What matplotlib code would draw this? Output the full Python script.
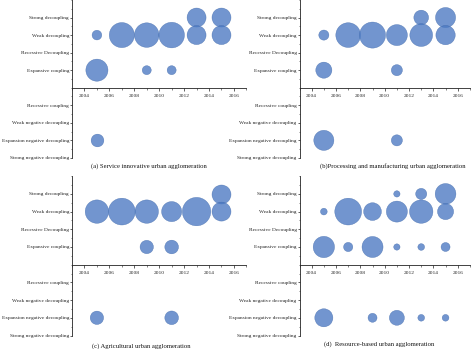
import matplotlib
matplotlib.use("Agg")
import matplotlib.pyplot as plt
from matplotlib.ticker import MultipleLocator

plt.rcParams['font.family'] = ['Liberation Serif', 'DejaVu Serif']

years = [2005, 2007, 2009, 2011, 2013, 2015]
y_labels = ["Strong decoupling", "Weak decoupling", "Recessive Decoupling",
            "Expansive coupling", "Recessive coupling", "Weak negative decoupling",
            "Expansion negative decoupling", "Strong negative decoupling"]
y_levels = [4, 3, 2, 1, -1, -2, -3, -4]
x_ticks = [2004, 2006, 2008, 2010, 2012, 2014, 2016]

# bubble sizes (relative) per state, per year
service_strong = [0, 0, 0, 0, 8.5, 8.5]
service_weak = [2.2, 14.8, 14.2, 15.4, 8.5, 8.5]
service_expansive = [11.5, 0, 1.9, 1.9, 0, 0]
service_expneg = [3.8, 0, 0, 0, 0, 0]

process_strong = [0, 0, 0, 0, 5.1, 9.5]
process_weak = [2.4, 14.4, 16.0, 10.4, 12.2, 8.8]
process_expansive = [6.1, 0, 0, 2.9, 0, 0]
process_expneg = [9.5, 0, 0, 2.9, 0, 0]

agri_strong = [0, 0, 0, 0, 0, 8.5]
agri_weak = [12.9, 16.9, 12.9, 9.5, 19.0, 8.5]
agri_expansive = [0, 0, 4.2, 4.4, 0, 0]
agri_expneg = [4.2, 0, 0, 4.4, 0, 0]

resource_strong = [0, 0, 0, 0.94, 2.9, 10.1]
resource_weak = [1.06, 16.9, 7.4, 10.4, 12.9, 6.1]
resource_expansive = [10.7, 2.0, 10.4, 0.94, 1.06, 1.9]
resource_expneg = [7.7, 0, 1.9, 5.3, 1.06, 1.06]

titles = ["(a) Service innovative urban agglomeration",
          "(b)Processing and manufacturing urban agglomeration",
          "(c) Agricultural urban agglomeration",
          "(d)  Resource-based urban agglomeration"]

panels = [
    {"Strong decoupling": service_strong, "Weak decoupling": service_weak,
     "Expansive coupling": service_expansive, "Expansion negative decoupling": service_expneg},
    {"Strong decoupling": process_strong, "Weak decoupling": process_weak,
     "Expansive coupling": process_expansive, "Expansion negative decoupling": process_expneg},
    {"Strong decoupling": agri_strong, "Weak decoupling": agri_weak,
     "Expansive coupling": agri_expansive, "Expansion negative decoupling": agri_expneg},
    {"Strong decoupling": resource_strong, "Weak decoupling": resource_weak,
     "Expansive coupling": resource_expansive, "Expansion negative decoupling": resource_expneg},
]

W, H = 474, 349
fig = plt.figure(figsize=(W / 100, H / 100), dpi=100)

# axes rectangles in pixels: left, top, right, bottom
rects = [(72, 0, 246.4, 157.9), (299.5, 0, 469.9, 157.9),
         (72, 176.2, 246.4, 335.5), (299.5, 176.2, 469.9, 335.5)]
title_pos = [(148.7, 165.7), (393, 165.7), (141.7, 346.0), (379, 344.3)]

level_of = dict(zip(y_labels, y_levels))
color = "#4a78c2"
edge = "#3a64a8"
scale = 22.0

for i, (data, (l, t, r, b)) in enumerate(zip(panels, rects)):
    ax = fig.add_axes([l / W, 1 - b / H, (r - l) / W, (b - t) / H])
    for cat, vals in data.items():
        xs = [yr for yr, v in zip(years, vals) if v > 0]
        ss = [v * scale for v in vals if v > 0]
        ys = [level_of[cat]] * len(xs)
        ax.scatter(xs, ys, s=ss, color=color, alpha=0.78, edgecolors=edge,
                   linewidths=0.3, zorder=3, clip_on=False)
    ax.set_xlim(2003, 2017)
    ax.set_ylim(-4, 5)
    ax.spines['top'].set_visible(False)
    ax.spines['right'].set_visible(False)
    ax.spines['bottom'].set_position(('data', 0))
    for s in ['left', 'bottom']:
        ax.spines[s].set_linewidth(0.6)
        ax.spines[s].set_color('#222222')
    ax.set_yticks(y_levels)
    ax.set_yticklabels(y_labels)
    ax.set_xticks(x_ticks)
    ax.set_xticklabels([str(x) for x in x_ticks])
    ax.yaxis.set_minor_locator(MultipleLocator(0.5))
    ax.xaxis.set_minor_locator(MultipleLocator(1))
    ax.tick_params(axis='y', which='major', labelsize=3.9, length=1.5, width=0.5,
                   pad=0.6, colors='#222222')
    ax.tick_params(axis='y', which='minor', length=1.0, width=0.4, colors='#222222')
    ax.tick_params(axis='x', which='major', labelsize=3.9, length=2, width=0.5,
                   pad=2.5, colors='#222222', direction='out')
    ax.tick_params(axis='x', which='minor', length=1.2, width=0.4, colors='#222222')
    ax.patch.set_alpha(0)
    tx, ty = title_pos[i]
    fig.text(tx / W, 1 - ty / H, titles[i], ha='center', va='center',
             fontsize=4.8, color='#111111')

fig.savefig("out.png", dpi=100)
